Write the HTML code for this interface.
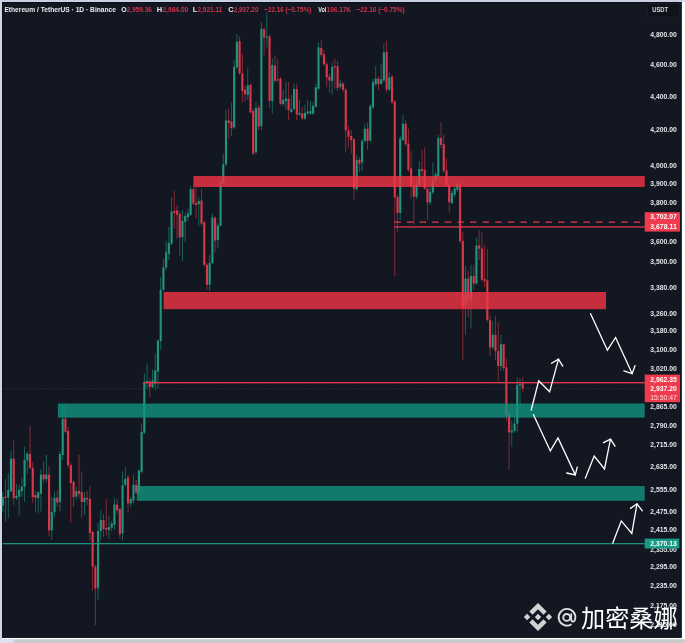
<!DOCTYPE html>
<html><head><meta charset="utf-8"><title>ETHUSDT</title>
<style>
html,body{margin:0;padding:0;background:#fff;}
body{width:685px;height:643px;overflow:hidden;position:relative;font-family:"Liberation Sans",sans-serif;}
svg{position:absolute;left:0;top:0;display:block}
text{font-family:"Liberation Sans",sans-serif;}
</style></head><body>
<svg width="685" height="643" viewBox="0 0 685 643">
<defs><filter id="b" x="-2%" y="-2%" width="104%" height="104%"><feGaussianBlur stdDeviation="0.4"/></filter><filter id="b2" x="-2%" y="-2%" width="104%" height="104%"><feGaussianBlur stdDeviation="0.3"/></filter><pattern id="chk" width="2" height="2" patternUnits="userSpaceOnUse"><rect width="2" height="2" fill="#d3d9e8"/><rect width="1" height="1" fill="#e6eaf3"/><rect x="1" y="1" width="1" height="1" fill="#e6eaf3"/></pattern></defs>
<rect x="0" y="0" width="685" height="643" fill="#ffffff"/>
<rect x="0" y="0" width="682" height="2.2" fill="#c9d0e2"/>
<rect x="682" y="0" width="3" height="2" fill="#d9deeb"/>
<rect x="0" y="0" width="2.2" height="639" fill="#d0d6e6"/>
<rect x="0" y="639" width="14" height="4" fill="url(#chk)"/>
<rect x="14" y="639.2" width="671" height="3.8" fill="#cbcbcb"/>
<rect x="2" y="2" width="679.8" height="635.9" fill="#080b13"/>
<rect x="2.6" y="2.6" width="678.6" height="634.7" fill="#131722"/>

<g id="candles" filter="url(#b)">
<rect x="2.35" y="492.0" width="0.9" height="20.0" fill="#166a5d"/>
<rect x="1.75" y="497.0" width="2.1" height="8.5" fill="#22957f"/>
<rect x="5.07" y="479.0" width="0.9" height="42.5" fill="#8f2a38"/>
<rect x="4.47" y="496.6" width="2.1" height="1.4" fill="#d9394c"/>
<rect x="7.79" y="473.0" width="0.9" height="45.0" fill="#166a5d"/>
<rect x="7.19" y="490.0" width="2.1" height="7.5" fill="#22957f"/>
<rect x="10.52" y="451.0" width="0.9" height="41.0" fill="#166a5d"/>
<rect x="9.92" y="458.7" width="2.1" height="32.7" fill="#22957f"/>
<rect x="13.24" y="440.0" width="0.9" height="65.0" fill="#8f2a38"/>
<rect x="12.64" y="458.7" width="2.1" height="39.3" fill="#d9394c"/>
<rect x="15.96" y="484.0" width="0.9" height="16.0" fill="#166a5d"/>
<rect x="15.36" y="496.0" width="2.1" height="2.0" fill="#22957f"/>
<rect x="18.68" y="485.0" width="0.9" height="30.5" fill="#166a5d"/>
<rect x="18.08" y="490.0" width="2.1" height="6.6" fill="#22957f"/>
<rect x="21.40" y="478.4" width="0.9" height="18.6" fill="#166a5d"/>
<rect x="20.80" y="486.8" width="2.1" height="4.2" fill="#22957f"/>
<rect x="24.13" y="446.5" width="0.9" height="55.3" fill="#166a5d"/>
<rect x="23.53" y="460.0" width="2.1" height="26.7" fill="#22957f"/>
<rect x="26.85" y="452.0" width="0.9" height="21.6" fill="#166a5d"/>
<rect x="26.25" y="453.5" width="2.1" height="7.0" fill="#22957f"/>
<rect x="29.57" y="426.0" width="0.9" height="43.0" fill="#8f2a38"/>
<rect x="28.97" y="454.0" width="2.1" height="14.0" fill="#d9394c"/>
<rect x="32.29" y="462.0" width="0.9" height="40.7" fill="#8f2a38"/>
<rect x="31.69" y="468.0" width="2.1" height="29.0" fill="#d9394c"/>
<rect x="35.01" y="490.5" width="0.9" height="21.5" fill="#8f2a38"/>
<rect x="34.41" y="495.0" width="2.1" height="3.0" fill="#d9394c"/>
<rect x="37.74" y="491.0" width="0.9" height="22.5" fill="#166a5d"/>
<rect x="37.14" y="492.4" width="2.1" height="5.6" fill="#22957f"/>
<rect x="40.46" y="469.0" width="0.9" height="42.5" fill="#166a5d"/>
<rect x="39.86" y="474.7" width="2.1" height="19.1" fill="#22957f"/>
<rect x="43.18" y="461.5" width="0.9" height="22.0" fill="#8f2a38"/>
<rect x="42.58" y="474.6" width="2.1" height="4.7" fill="#d9394c"/>
<rect x="45.90" y="455.0" width="0.9" height="27.0" fill="#166a5d"/>
<rect x="45.30" y="474.6" width="2.1" height="4.7" fill="#22957f"/>
<rect x="48.62" y="466.0" width="0.9" height="70.4" fill="#8f2a38"/>
<rect x="48.02" y="474.7" width="2.1" height="55.7" fill="#d9394c"/>
<rect x="51.35" y="497.0" width="0.9" height="43.0" fill="#166a5d"/>
<rect x="50.75" y="512.0" width="2.1" height="18.4" fill="#22957f"/>
<rect x="54.07" y="491.5" width="0.9" height="25.2" fill="#166a5d"/>
<rect x="53.47" y="498.0" width="2.1" height="14.0" fill="#22957f"/>
<rect x="56.79" y="490.6" width="0.9" height="16.4" fill="#8f2a38"/>
<rect x="56.19" y="497.6" width="2.1" height="5.1" fill="#d9394c"/>
<rect x="59.51" y="451.0" width="0.9" height="60.5" fill="#166a5d"/>
<rect x="58.91" y="454.0" width="2.1" height="48.0" fill="#22957f"/>
<rect x="62.23" y="403.7" width="0.9" height="56.3" fill="#166a5d"/>
<rect x="61.63" y="418.7" width="2.1" height="36.3" fill="#22957f"/>
<rect x="64.96" y="403.3" width="0.9" height="29.7" fill="#8f2a38"/>
<rect x="64.36" y="418.7" width="2.1" height="13.1" fill="#d9394c"/>
<rect x="67.68" y="427.0" width="0.9" height="41.0" fill="#8f2a38"/>
<rect x="67.08" y="430.8" width="2.1" height="34.4" fill="#d9394c"/>
<rect x="70.40" y="463.0" width="0.9" height="59.7" fill="#8f2a38"/>
<rect x="69.80" y="465.2" width="2.1" height="17.8" fill="#d9394c"/>
<rect x="73.12" y="480.0" width="0.9" height="26.8" fill="#8f2a38"/>
<rect x="72.52" y="482.0" width="2.1" height="15.0" fill="#d9394c"/>
<rect x="75.84" y="486.7" width="0.9" height="13.3" fill="#166a5d"/>
<rect x="75.24" y="491.0" width="2.1" height="5.5" fill="#22957f"/>
<rect x="78.57" y="455.0" width="0.9" height="43.0" fill="#8f2a38"/>
<rect x="77.97" y="491.0" width="2.1" height="2.7" fill="#d9394c"/>
<rect x="81.29" y="471.8" width="0.9" height="46.2" fill="#8f2a38"/>
<rect x="80.69" y="492.0" width="2.1" height="10.0" fill="#d9394c"/>
<rect x="84.01" y="492.0" width="0.9" height="23.0" fill="#166a5d"/>
<rect x="83.41" y="498.0" width="2.1" height="4.0" fill="#22957f"/>
<rect x="86.73" y="491.0" width="0.9" height="14.0" fill="#8f2a38"/>
<rect x="86.13" y="498.0" width="2.1" height="1.3" fill="#d9394c"/>
<rect x="89.45" y="485.8" width="0.9" height="54.7" fill="#8f2a38"/>
<rect x="88.85" y="498.9" width="2.1" height="34.1" fill="#d9394c"/>
<rect x="92.18" y="530.0" width="0.9" height="61.0" fill="#8f2a38"/>
<rect x="91.58" y="532.0" width="2.1" height="34.6" fill="#d9394c"/>
<rect x="94.90" y="565.0" width="0.9" height="60.0" fill="#8f2a38"/>
<rect x="94.30" y="566.6" width="2.1" height="22.0" fill="#d9394c"/>
<rect x="97.62" y="522.7" width="0.9" height="77.3" fill="#166a5d"/>
<rect x="97.02" y="531.0" width="2.1" height="56.7" fill="#22957f"/>
<rect x="100.34" y="510.0" width="0.9" height="30.5" fill="#166a5d"/>
<rect x="99.74" y="520.0" width="2.1" height="11.0" fill="#22957f"/>
<rect x="103.06" y="514.0" width="0.9" height="22.7" fill="#8f2a38"/>
<rect x="102.46" y="520.0" width="2.1" height="9.0" fill="#d9394c"/>
<rect x="105.79" y="499.0" width="0.9" height="36.8" fill="#8f2a38"/>
<rect x="105.19" y="528.0" width="2.1" height="1.7" fill="#d9394c"/>
<rect x="108.51" y="516.0" width="0.9" height="22.6" fill="#166a5d"/>
<rect x="107.91" y="527.0" width="2.1" height="3.0" fill="#22957f"/>
<rect x="111.23" y="521.0" width="0.9" height="10.0" fill="#166a5d"/>
<rect x="110.63" y="523.5" width="2.1" height="4.3" fill="#22957f"/>
<rect x="113.95" y="498.5" width="0.9" height="31.5" fill="#166a5d"/>
<rect x="113.35" y="504.6" width="2.1" height="20.4" fill="#22957f"/>
<rect x="116.67" y="498.4" width="0.9" height="15.1" fill="#8f2a38"/>
<rect x="116.07" y="504.6" width="2.1" height="5.7" fill="#d9394c"/>
<rect x="119.40" y="508.0" width="0.9" height="31.0" fill="#8f2a38"/>
<rect x="118.80" y="509.0" width="2.1" height="25.2" fill="#d9394c"/>
<rect x="122.12" y="471.8" width="0.9" height="68.5" fill="#166a5d"/>
<rect x="121.52" y="485.3" width="2.1" height="48.0" fill="#22957f"/>
<rect x="124.84" y="467.0" width="0.9" height="19.0" fill="#166a5d"/>
<rect x="124.24" y="478.8" width="2.1" height="6.1" fill="#22957f"/>
<rect x="127.56" y="475.0" width="0.9" height="37.7" fill="#8f2a38"/>
<rect x="126.96" y="477.4" width="2.1" height="26.0" fill="#d9394c"/>
<rect x="130.28" y="497.0" width="0.9" height="10.0" fill="#166a5d"/>
<rect x="129.68" y="499.0" width="2.1" height="4.4" fill="#22957f"/>
<rect x="133.01" y="474.6" width="0.9" height="28.8" fill="#166a5d"/>
<rect x="132.41" y="485.0" width="2.1" height="15.6" fill="#22957f"/>
<rect x="135.73" y="480.0" width="0.9" height="14.0" fill="#8f2a38"/>
<rect x="135.13" y="485.0" width="2.1" height="7.5" fill="#d9394c"/>
<rect x="138.45" y="469.0" width="0.9" height="25.0" fill="#166a5d"/>
<rect x="137.85" y="470.8" width="2.1" height="21.7" fill="#22957f"/>
<rect x="141.17" y="424.0" width="0.9" height="49.0" fill="#166a5d"/>
<rect x="140.57" y="431.8" width="2.1" height="40.0" fill="#22957f"/>
<rect x="143.89" y="373.5" width="0.9" height="60.5" fill="#166a5d"/>
<rect x="143.29" y="382.5" width="2.1" height="50.2" fill="#22957f"/>
<rect x="146.62" y="363.5" width="0.9" height="25.5" fill="#166a5d"/>
<rect x="146.02" y="381.0" width="2.1" height="2.0" fill="#22957f"/>
<rect x="149.34" y="378.0" width="0.9" height="19.0" fill="#8f2a38"/>
<rect x="148.74" y="381.3" width="2.1" height="5.7" fill="#d9394c"/>
<rect x="152.06" y="369.8" width="0.9" height="18.2" fill="#166a5d"/>
<rect x="151.46" y="380.4" width="2.1" height="6.6" fill="#22957f"/>
<rect x="154.78" y="353.6" width="0.9" height="36.1" fill="#166a5d"/>
<rect x="154.18" y="370.4" width="2.1" height="13.1" fill="#22957f"/>
<rect x="157.50" y="340.0" width="0.9" height="48.5" fill="#166a5d"/>
<rect x="156.90" y="340.5" width="2.1" height="31.1" fill="#22957f"/>
<rect x="160.23" y="277.0" width="0.9" height="72.9" fill="#166a5d"/>
<rect x="159.63" y="289.8" width="2.1" height="51.2" fill="#22957f"/>
<rect x="162.95" y="258.6" width="0.9" height="32.4" fill="#166a5d"/>
<rect x="162.35" y="267.4" width="2.1" height="22.4" fill="#22957f"/>
<rect x="165.67" y="241.0" width="0.9" height="29.0" fill="#166a5d"/>
<rect x="165.07" y="252.4" width="2.1" height="15.0" fill="#22957f"/>
<rect x="168.39" y="227.0" width="0.9" height="33.0" fill="#166a5d"/>
<rect x="167.79" y="243.0" width="2.1" height="10.7" fill="#22957f"/>
<rect x="171.11" y="197.4" width="0.9" height="47.6" fill="#166a5d"/>
<rect x="170.51" y="211.7" width="2.1" height="32.0" fill="#22957f"/>
<rect x="173.84" y="191.0" width="0.9" height="37.5" fill="#8f2a38"/>
<rect x="173.24" y="211.0" width="2.1" height="2.0" fill="#d9394c"/>
<rect x="176.56" y="204.9" width="0.9" height="33.6" fill="#8f2a38"/>
<rect x="175.96" y="210.5" width="2.1" height="4.3" fill="#d9394c"/>
<rect x="179.28" y="211.0" width="0.9" height="45.0" fill="#8f2a38"/>
<rect x="178.68" y="213.6" width="2.1" height="23.6" fill="#d9394c"/>
<rect x="182.00" y="209.8" width="0.9" height="51.2" fill="#166a5d"/>
<rect x="181.40" y="221.0" width="2.1" height="16.2" fill="#22957f"/>
<rect x="184.72" y="212.3" width="0.9" height="29.7" fill="#166a5d"/>
<rect x="184.12" y="216.0" width="2.1" height="5.7" fill="#22957f"/>
<rect x="187.45" y="208.6" width="0.9" height="12.4" fill="#166a5d"/>
<rect x="186.85" y="213.6" width="2.1" height="3.7" fill="#22957f"/>
<rect x="190.17" y="186.0" width="0.9" height="30.0" fill="#166a5d"/>
<rect x="189.57" y="189.3" width="2.1" height="25.5" fill="#22957f"/>
<rect x="192.89" y="186.8" width="0.9" height="18.2" fill="#8f2a38"/>
<rect x="192.29" y="189.3" width="2.1" height="14.3" fill="#d9394c"/>
<rect x="195.61" y="187.4" width="0.9" height="31.1" fill="#8f2a38"/>
<rect x="195.01" y="203.0" width="2.1" height="1.9" fill="#d9394c"/>
<rect x="198.33" y="196.8" width="0.9" height="29.2" fill="#166a5d"/>
<rect x="197.73" y="201.0" width="2.1" height="3.2" fill="#22957f"/>
<rect x="201.06" y="189.3" width="0.9" height="36.7" fill="#8f2a38"/>
<rect x="200.46" y="200.5" width="2.1" height="23.0" fill="#d9394c"/>
<rect x="203.78" y="221.0" width="0.9" height="46.0" fill="#8f2a38"/>
<rect x="203.18" y="222.4" width="2.1" height="42.4" fill="#d9394c"/>
<rect x="206.50" y="263.0" width="0.9" height="26.8" fill="#8f2a38"/>
<rect x="205.90" y="264.8" width="2.1" height="20.0" fill="#d9394c"/>
<rect x="209.22" y="254.8" width="0.9" height="36.2" fill="#166a5d"/>
<rect x="208.62" y="263.0" width="2.1" height="21.8" fill="#22957f"/>
<rect x="211.94" y="213.6" width="0.9" height="50.4" fill="#166a5d"/>
<rect x="211.34" y="217.4" width="2.1" height="45.6" fill="#22957f"/>
<rect x="214.67" y="216.0" width="0.9" height="36.3" fill="#8f2a38"/>
<rect x="214.07" y="218.0" width="2.1" height="22.5" fill="#d9394c"/>
<rect x="217.39" y="223.0" width="0.9" height="25.6" fill="#166a5d"/>
<rect x="216.79" y="225.5" width="2.1" height="14.4" fill="#22957f"/>
<rect x="220.11" y="180.0" width="0.9" height="47.0" fill="#166a5d"/>
<rect x="219.51" y="182.3" width="2.1" height="43.2" fill="#22957f"/>
<rect x="222.83" y="153.7" width="0.9" height="30.3" fill="#166a5d"/>
<rect x="222.23" y="164.3" width="2.1" height="18.0" fill="#22957f"/>
<rect x="225.55" y="110.0" width="0.9" height="56.0" fill="#166a5d"/>
<rect x="224.95" y="120.5" width="2.1" height="43.8" fill="#22957f"/>
<rect x="228.28" y="108.6" width="0.9" height="29.9" fill="#8f2a38"/>
<rect x="227.68" y="120.5" width="2.1" height="2.5" fill="#d9394c"/>
<rect x="231.00" y="102.4" width="0.9" height="33.6" fill="#8f2a38"/>
<rect x="230.40" y="121.7" width="2.1" height="6.3" fill="#d9394c"/>
<rect x="233.72" y="59.8" width="0.9" height="69.2" fill="#166a5d"/>
<rect x="233.12" y="66.7" width="2.1" height="60.6" fill="#22957f"/>
<rect x="236.44" y="33.7" width="0.9" height="35.3" fill="#166a5d"/>
<rect x="235.84" y="41.8" width="2.1" height="25.5" fill="#22957f"/>
<rect x="239.16" y="36.2" width="0.9" height="38.8" fill="#8f2a38"/>
<rect x="238.56" y="41.2" width="2.1" height="32.3" fill="#d9394c"/>
<rect x="241.89" y="53.6" width="0.9" height="48.8" fill="#8f2a38"/>
<rect x="241.29" y="73.5" width="2.1" height="17.5" fill="#d9394c"/>
<rect x="244.61" y="86.0" width="0.9" height="16.0" fill="#8f2a38"/>
<rect x="244.01" y="89.7" width="2.1" height="4.6" fill="#d9394c"/>
<rect x="247.33" y="67.3" width="0.9" height="32.7" fill="#166a5d"/>
<rect x="246.73" y="85.4" width="2.1" height="9.5" fill="#22957f"/>
<rect x="250.05" y="83.5" width="0.9" height="30.0" fill="#8f2a38"/>
<rect x="249.45" y="84.7" width="2.1" height="27.7" fill="#d9394c"/>
<rect x="252.77" y="109.0" width="0.9" height="46.5" fill="#8f2a38"/>
<rect x="252.17" y="111.0" width="2.1" height="42.5" fill="#d9394c"/>
<rect x="255.50" y="102.0" width="0.9" height="52.0" fill="#166a5d"/>
<rect x="254.90" y="108.0" width="2.1" height="44.2" fill="#22957f"/>
<rect x="258.22" y="105.0" width="0.9" height="25.0" fill="#8f2a38"/>
<rect x="257.62" y="107.4" width="2.1" height="19.3" fill="#d9394c"/>
<rect x="260.94" y="22.4" width="0.9" height="107.6" fill="#166a5d"/>
<rect x="260.34" y="29.0" width="2.1" height="97.0" fill="#22957f"/>
<rect x="263.66" y="27.5" width="0.9" height="27.4" fill="#8f2a38"/>
<rect x="263.06" y="29.3" width="2.1" height="8.4" fill="#d9394c"/>
<rect x="266.38" y="12.5" width="0.9" height="34.8" fill="#166a5d"/>
<rect x="265.78" y="36.4" width="2.1" height="1.2" fill="#22957f"/>
<rect x="269.11" y="34.0" width="0.9" height="74.0" fill="#8f2a38"/>
<rect x="268.51" y="36.5" width="2.1" height="64.5" fill="#d9394c"/>
<rect x="271.83" y="58.6" width="0.9" height="54.9" fill="#166a5d"/>
<rect x="271.23" y="65.0" width="2.1" height="36.0" fill="#22957f"/>
<rect x="274.55" y="55.3" width="0.9" height="27.2" fill="#8f2a38"/>
<rect x="273.95" y="65.5" width="2.1" height="15.2" fill="#d9394c"/>
<rect x="277.27" y="59.5" width="0.9" height="22.0" fill="#8f2a38"/>
<rect x="276.67" y="79.4" width="2.1" height="1.2" fill="#d9394c"/>
<rect x="279.99" y="77.0" width="0.9" height="28.0" fill="#8f2a38"/>
<rect x="279.39" y="78.8" width="2.1" height="25.0" fill="#d9394c"/>
<rect x="282.72" y="89.8" width="0.9" height="16.2" fill="#166a5d"/>
<rect x="282.12" y="100.0" width="2.1" height="4.0" fill="#22957f"/>
<rect x="285.44" y="82.0" width="0.9" height="27.7" fill="#166a5d"/>
<rect x="284.84" y="98.5" width="2.1" height="2.5" fill="#22957f"/>
<rect x="288.16" y="82.0" width="0.9" height="38.0" fill="#8f2a38"/>
<rect x="287.56" y="98.8" width="2.1" height="11.2" fill="#d9394c"/>
<rect x="290.88" y="94.8" width="0.9" height="18.2" fill="#166a5d"/>
<rect x="290.28" y="109.0" width="2.1" height="3.0" fill="#22957f"/>
<rect x="293.60" y="83.6" width="0.9" height="26.4" fill="#166a5d"/>
<rect x="293.00" y="89.0" width="2.1" height="20.0" fill="#22957f"/>
<rect x="296.33" y="83.6" width="0.9" height="36.4" fill="#8f2a38"/>
<rect x="295.73" y="89.0" width="2.1" height="25.5" fill="#d9394c"/>
<rect x="299.05" y="100.0" width="0.9" height="16.0" fill="#166a5d"/>
<rect x="298.45" y="112.8" width="2.1" height="1.9" fill="#22957f"/>
<rect x="301.77" y="107.0" width="0.9" height="13.0" fill="#8f2a38"/>
<rect x="301.17" y="113.5" width="2.1" height="5.0" fill="#d9394c"/>
<rect x="304.49" y="104.8" width="0.9" height="15.2" fill="#166a5d"/>
<rect x="303.89" y="112.8" width="2.1" height="5.7" fill="#22957f"/>
<rect x="307.21" y="99.8" width="0.9" height="15.2" fill="#166a5d"/>
<rect x="306.61" y="111.6" width="2.1" height="1.9" fill="#22957f"/>
<rect x="309.94" y="101.0" width="0.9" height="14.0" fill="#166a5d"/>
<rect x="309.34" y="111.0" width="2.1" height="2.5" fill="#22957f"/>
<rect x="312.66" y="102.0" width="0.9" height="13.0" fill="#166a5d"/>
<rect x="312.06" y="106.0" width="2.1" height="7.5" fill="#22957f"/>
<rect x="315.38" y="83.6" width="0.9" height="24.4" fill="#166a5d"/>
<rect x="314.78" y="87.3" width="2.1" height="19.3" fill="#22957f"/>
<rect x="318.10" y="42.5" width="0.9" height="47.5" fill="#166a5d"/>
<rect x="317.50" y="47.5" width="2.1" height="41.1" fill="#22957f"/>
<rect x="320.82" y="40.0" width="0.9" height="17.0" fill="#8f2a38"/>
<rect x="320.22" y="48.0" width="2.1" height="7.0" fill="#d9394c"/>
<rect x="323.55" y="50.0" width="0.9" height="16.0" fill="#8f2a38"/>
<rect x="322.95" y="54.3" width="2.1" height="10.0" fill="#d9394c"/>
<rect x="326.27" y="62.0" width="0.9" height="25.3" fill="#8f2a38"/>
<rect x="325.67" y="64.3" width="2.1" height="13.1" fill="#d9394c"/>
<rect x="328.99" y="74.0" width="0.9" height="18.3" fill="#8f2a38"/>
<rect x="328.39" y="76.7" width="2.1" height="3.8" fill="#d9394c"/>
<rect x="331.71" y="62.4" width="0.9" height="32.4" fill="#166a5d"/>
<rect x="331.11" y="66.8" width="2.1" height="14.3" fill="#22957f"/>
<rect x="334.43" y="58.7" width="0.9" height="29.9" fill="#8f2a38"/>
<rect x="333.83" y="66.2" width="2.1" height="1.2" fill="#d9394c"/>
<rect x="337.16" y="61.0" width="0.9" height="30.0" fill="#8f2a38"/>
<rect x="336.56" y="66.2" width="2.1" height="21.8" fill="#d9394c"/>
<rect x="339.88" y="80.0" width="0.9" height="9.0" fill="#166a5d"/>
<rect x="339.28" y="83.6" width="2.1" height="3.1" fill="#22957f"/>
<rect x="342.60" y="82.3" width="0.9" height="9.7" fill="#8f2a38"/>
<rect x="342.00" y="83.6" width="2.1" height="6.2" fill="#d9394c"/>
<rect x="345.32" y="88.0" width="0.9" height="64.0" fill="#8f2a38"/>
<rect x="344.72" y="89.8" width="2.1" height="40.7" fill="#d9394c"/>
<rect x="348.04" y="126.0" width="0.9" height="21.4" fill="#8f2a38"/>
<rect x="347.44" y="130.5" width="2.1" height="6.3" fill="#d9394c"/>
<rect x="350.77" y="130.0" width="0.9" height="23.6" fill="#8f2a38"/>
<rect x="350.17" y="136.0" width="2.1" height="4.0" fill="#d9394c"/>
<rect x="353.49" y="138.0" width="0.9" height="61.9" fill="#8f2a38"/>
<rect x="352.89" y="139.3" width="2.1" height="49.4" fill="#d9394c"/>
<rect x="356.21" y="154.8" width="0.9" height="35.7" fill="#166a5d"/>
<rect x="355.61" y="159.8" width="2.1" height="29.5" fill="#22957f"/>
<rect x="358.93" y="157.0" width="0.9" height="15.0" fill="#8f2a38"/>
<rect x="358.33" y="159.8" width="2.1" height="3.7" fill="#d9394c"/>
<rect x="361.65" y="139.0" width="0.9" height="32.0" fill="#166a5d"/>
<rect x="361.05" y="141.0" width="2.1" height="21.3" fill="#22957f"/>
<rect x="364.38" y="123.7" width="0.9" height="19.3" fill="#166a5d"/>
<rect x="363.78" y="128.7" width="2.1" height="12.3" fill="#22957f"/>
<rect x="367.10" y="122.5" width="0.9" height="27.5" fill="#8f2a38"/>
<rect x="366.50" y="128.7" width="2.1" height="12.3" fill="#d9394c"/>
<rect x="369.82" y="104.0" width="0.9" height="38.0" fill="#166a5d"/>
<rect x="369.22" y="106.0" width="2.1" height="34.5" fill="#22957f"/>
<rect x="372.54" y="78.6" width="0.9" height="30.4" fill="#166a5d"/>
<rect x="371.94" y="82.3" width="2.1" height="24.9" fill="#22957f"/>
<rect x="375.26" y="66.0" width="0.9" height="20.0" fill="#166a5d"/>
<rect x="374.66" y="78.6" width="2.1" height="5.6" fill="#22957f"/>
<rect x="377.99" y="76.0" width="0.9" height="13.8" fill="#8f2a38"/>
<rect x="377.39" y="78.6" width="2.1" height="5.6" fill="#d9394c"/>
<rect x="380.71" y="63.7" width="0.9" height="21.3" fill="#166a5d"/>
<rect x="380.11" y="79.2" width="2.1" height="4.4" fill="#22957f"/>
<rect x="383.43" y="43.7" width="0.9" height="38.3" fill="#166a5d"/>
<rect x="382.83" y="52.5" width="2.1" height="28.0" fill="#22957f"/>
<rect x="386.15" y="41.0" width="0.9" height="51.3" fill="#8f2a38"/>
<rect x="385.55" y="51.8" width="2.1" height="37.7" fill="#d9394c"/>
<rect x="388.87" y="72.4" width="0.9" height="18.6" fill="#166a5d"/>
<rect x="388.27" y="77.4" width="2.1" height="12.4" fill="#22957f"/>
<rect x="391.60" y="75.0" width="0.9" height="29.0" fill="#8f2a38"/>
<rect x="391.00" y="76.7" width="2.1" height="25.6" fill="#d9394c"/>
<rect x="394.32" y="100.0" width="0.9" height="176.0" fill="#8f2a38"/>
<rect x="393.72" y="101.6" width="2.1" height="95.8" fill="#d9394c"/>
<rect x="397.04" y="195.0" width="0.9" height="37.0" fill="#8f2a38"/>
<rect x="396.44" y="197.0" width="2.1" height="16.0" fill="#d9394c"/>
<rect x="399.76" y="136.0" width="0.9" height="84.0" fill="#166a5d"/>
<rect x="399.16" y="138.6" width="2.1" height="74.4" fill="#22957f"/>
<rect x="402.48" y="115.0" width="0.9" height="26.0" fill="#166a5d"/>
<rect x="401.88" y="123.7" width="2.1" height="16.2" fill="#22957f"/>
<rect x="405.21" y="120.0" width="0.9" height="26.0" fill="#8f2a38"/>
<rect x="404.61" y="123.7" width="2.1" height="20.5" fill="#d9394c"/>
<rect x="407.93" y="128.7" width="0.9" height="43.3" fill="#8f2a38"/>
<rect x="407.33" y="143.6" width="2.1" height="26.2" fill="#d9394c"/>
<rect x="410.65" y="151.0" width="0.9" height="47.6" fill="#8f2a38"/>
<rect x="410.05" y="168.5" width="2.1" height="17.5" fill="#d9394c"/>
<rect x="413.37" y="184.0" width="0.9" height="40.8" fill="#8f2a38"/>
<rect x="412.77" y="186.0" width="2.1" height="10.5" fill="#d9394c"/>
<rect x="416.09" y="180.0" width="0.9" height="19.0" fill="#166a5d"/>
<rect x="415.49" y="185.0" width="2.1" height="11.8" fill="#22957f"/>
<rect x="418.82" y="161.0" width="0.9" height="26.0" fill="#166a5d"/>
<rect x="418.22" y="169.1" width="2.1" height="15.9" fill="#22957f"/>
<rect x="421.54" y="149.8" width="0.9" height="30.2" fill="#8f2a38"/>
<rect x="420.94" y="169.1" width="2.1" height="1.9" fill="#d9394c"/>
<rect x="424.26" y="147.3" width="0.9" height="42.7" fill="#8f2a38"/>
<rect x="423.66" y="169.8" width="2.1" height="18.9" fill="#d9394c"/>
<rect x="426.98" y="187.0" width="0.9" height="32.8" fill="#8f2a38"/>
<rect x="426.38" y="188.7" width="2.1" height="13.7" fill="#d9394c"/>
<rect x="429.70" y="187.0" width="0.9" height="18.0" fill="#166a5d"/>
<rect x="429.10" y="191.8" width="2.1" height="10.6" fill="#22957f"/>
<rect x="432.43" y="162.3" width="0.9" height="31.7" fill="#166a5d"/>
<rect x="431.83" y="180.0" width="2.1" height="12.4" fill="#22957f"/>
<rect x="435.15" y="172.0" width="0.9" height="10.0" fill="#166a5d"/>
<rect x="434.55" y="174.5" width="2.1" height="5.5" fill="#22957f"/>
<rect x="437.87" y="135.0" width="0.9" height="43.0" fill="#166a5d"/>
<rect x="437.27" y="138.0" width="2.1" height="38.0" fill="#22957f"/>
<rect x="440.59" y="122.4" width="0.9" height="25.6" fill="#8f2a38"/>
<rect x="439.99" y="138.0" width="2.1" height="6.9" fill="#d9394c"/>
<rect x="443.31" y="135.0" width="0.9" height="38.0" fill="#8f2a38"/>
<rect x="442.71" y="144.2" width="2.1" height="26.6" fill="#d9394c"/>
<rect x="446.04" y="158.5" width="0.9" height="28.5" fill="#8f2a38"/>
<rect x="445.44" y="170.5" width="2.1" height="14.5" fill="#d9394c"/>
<rect x="448.76" y="183.6" width="0.9" height="28.7" fill="#8f2a38"/>
<rect x="448.16" y="185.0" width="2.1" height="17.3" fill="#d9394c"/>
<rect x="451.48" y="190.0" width="0.9" height="14.0" fill="#166a5d"/>
<rect x="450.88" y="193.0" width="2.1" height="10.0" fill="#22957f"/>
<rect x="454.20" y="186.0" width="0.9" height="11.0" fill="#166a5d"/>
<rect x="453.60" y="188.6" width="2.1" height="6.2" fill="#22957f"/>
<rect x="456.92" y="182.3" width="0.9" height="9.7" fill="#166a5d"/>
<rect x="456.32" y="183.6" width="2.1" height="6.3" fill="#22957f"/>
<rect x="459.65" y="183.0" width="0.9" height="60.0" fill="#8f2a38"/>
<rect x="459.05" y="184.2" width="2.1" height="57.0" fill="#d9394c"/>
<rect x="462.37" y="232.0" width="0.9" height="127.7" fill="#8f2a38"/>
<rect x="461.77" y="241.2" width="2.1" height="66.2" fill="#d9394c"/>
<rect x="465.09" y="266.0" width="0.9" height="68.8" fill="#166a5d"/>
<rect x="464.49" y="278.5" width="2.1" height="26.5" fill="#22957f"/>
<rect x="467.81" y="271.0" width="0.9" height="46.0" fill="#8f2a38"/>
<rect x="467.21" y="278.5" width="2.1" height="22.5" fill="#d9394c"/>
<rect x="470.53" y="265.0" width="0.9" height="63.6" fill="#166a5d"/>
<rect x="469.93" y="276.0" width="2.1" height="24.0" fill="#22957f"/>
<rect x="473.26" y="264.8" width="0.9" height="25.2" fill="#8f2a38"/>
<rect x="472.66" y="276.0" width="2.1" height="7.5" fill="#d9394c"/>
<rect x="475.98" y="237.5" width="0.9" height="47.5" fill="#166a5d"/>
<rect x="475.38" y="245.5" width="2.1" height="38.0" fill="#22957f"/>
<rect x="478.70" y="230.0" width="0.9" height="30.0" fill="#8f2a38"/>
<rect x="478.10" y="245.5" width="2.1" height="3.2" fill="#d9394c"/>
<rect x="481.42" y="232.5" width="0.9" height="49.5" fill="#8f2a38"/>
<rect x="480.82" y="248.7" width="2.1" height="31.1" fill="#d9394c"/>
<rect x="484.14" y="245.0" width="0.9" height="42.0" fill="#8f2a38"/>
<rect x="483.54" y="279.0" width="2.1" height="2.0" fill="#d9394c"/>
<rect x="486.87" y="248.7" width="0.9" height="73.3" fill="#8f2a38"/>
<rect x="486.27" y="280.4" width="2.1" height="39.5" fill="#d9394c"/>
<rect x="489.59" y="315.0" width="0.9" height="41.0" fill="#8f2a38"/>
<rect x="488.99" y="319.9" width="2.1" height="27.5" fill="#d9394c"/>
<rect x="492.31" y="321.0" width="0.9" height="28.0" fill="#166a5d"/>
<rect x="491.71" y="334.8" width="2.1" height="12.6" fill="#22957f"/>
<rect x="495.03" y="316.0" width="0.9" height="44.0" fill="#8f2a38"/>
<rect x="494.43" y="334.8" width="2.1" height="16.3" fill="#d9394c"/>
<rect x="497.75" y="322.0" width="0.9" height="59.0" fill="#8f2a38"/>
<rect x="497.15" y="351.1" width="2.1" height="14.9" fill="#d9394c"/>
<rect x="500.48" y="334.8" width="0.9" height="36.2" fill="#166a5d"/>
<rect x="499.88" y="344.3" width="2.1" height="21.7" fill="#22957f"/>
<rect x="503.20" y="343.5" width="0.9" height="27.5" fill="#8f2a38"/>
<rect x="502.60" y="344.3" width="2.1" height="23.7" fill="#d9394c"/>
<rect x="505.92" y="358.7" width="0.9" height="62.3" fill="#8f2a38"/>
<rect x="505.32" y="367.4" width="2.1" height="47.6" fill="#d9394c"/>
<rect x="508.64" y="412.0" width="0.9" height="57.7" fill="#8f2a38"/>
<rect x="508.04" y="413.7" width="2.1" height="18.7" fill="#d9394c"/>
<rect x="511.36" y="420.0" width="0.9" height="27.0" fill="#166a5d"/>
<rect x="510.76" y="430.5" width="2.1" height="1.9" fill="#22957f"/>
<rect x="514.09" y="417.4" width="0.9" height="15.6" fill="#166a5d"/>
<rect x="513.49" y="423.6" width="2.1" height="7.4" fill="#22957f"/>
<rect x="516.81" y="377.3" width="0.9" height="55.1" fill="#166a5d"/>
<rect x="516.21" y="384.8" width="2.1" height="38.8" fill="#22957f"/>
<rect x="519.53" y="378.5" width="0.9" height="29.0" fill="#166a5d"/>
<rect x="518.93" y="384.2" width="2.1" height="1.2" fill="#22957f"/>
<rect x="522.25" y="377.3" width="0.9" height="15.0" fill="#8f2a38"/>
<rect x="521.65" y="382.3" width="2.1" height="6.2" fill="#d9394c"/>
</g>
<g id="lines" filter="url(#b2)">
<line x1="2.6" y1="388.7" x2="644.7" y2="388.7" stroke="#4a4d58" stroke-width="0.8" stroke-dasharray="1 1.2" opacity="0.6"/>
<rect x="143" y="382" width="501.7" height="1.4" fill="#e0384b"/>
<rect x="2.6" y="543" width="642.1" height="1.3" fill="#1a8f7c"/>
<rect x="394.2" y="226.3" width="250.5" height="1.3" fill="#e0384b"/>
<line x1="394.4" y1="222.2" x2="644.7" y2="222.2" stroke="#e0384b" stroke-width="1.2" stroke-dasharray="6.5 6.1"/>
</g>
<g id="zones" filter="url(#b2)">
<rect x="193.4" y="176" width="451.3" height="11" fill="#f23645" fill-opacity="0.8"/>
<rect x="163.6" y="292" width="442.4" height="17.2" fill="#f23645" fill-opacity="0.8"/>
<rect x="57.9" y="403.5" width="586.8" height="14.1" fill="#109682" fill-opacity="0.78"/>
<rect x="136.8" y="486" width="507.9" height="14.8" fill="#109682" fill-opacity="0.78"/>
</g>
<g id="arrows" filter="url(#b2)">
<path d="M531.2 410.0 L538.7 380.8 L549.6 391.8 L558.5 359.1" fill="none" stroke="#ffffff" stroke-width="1.3" stroke-linejoin="miter" stroke-linecap="round"/>
<path d="M551.5 363.3 L558.5 359.1 L562.7 366.1" fill="none" stroke="#ffffff" stroke-width="1.3" stroke-linecap="round" stroke-linejoin="miter"/>
<path d="M533.5 414.7 L550.3 450.9 L558.0 438.0 L575.3 474.9" fill="none" stroke="#ffffff" stroke-width="1.3" stroke-linejoin="miter" stroke-linecap="round"/>
<path d="M566.7 473.0 L575.3 474.9 L577.2 467.2" fill="none" stroke="#ffffff" stroke-width="1.3" stroke-linecap="round" stroke-linejoin="miter"/>
<path d="M585.3 478.2 L594.2 456.0 L604.5 469.0 L610.5 439.2" fill="none" stroke="#ffffff" stroke-width="1.3" stroke-linejoin="miter" stroke-linecap="round"/>
<path d="M603.5 442.7 L610.5 439.2 L615.0 446.2" fill="none" stroke="#ffffff" stroke-width="1.3" stroke-linecap="round" stroke-linejoin="miter"/>
<path d="M590.6 313.7 L607.4 350.2 L615.6 337.5 L632.1 373.6" fill="none" stroke="#ffffff" stroke-width="1.3" stroke-linejoin="miter" stroke-linecap="round"/>
<path d="M623.9 370.8 L632.1 373.6 L635.0 365.7" fill="none" stroke="#ffffff" stroke-width="1.3" stroke-linecap="round" stroke-linejoin="miter"/>
<path d="M612.7 543.2 L621.3 520.9 L631.8 533.4 L637.0 503.8" fill="none" stroke="#ffffff" stroke-width="1.3" stroke-linejoin="miter" stroke-linecap="round"/>
<path d="M630.5 508.4 L637.0 503.8 L642.3 510.8" fill="none" stroke="#ffffff" stroke-width="1.3" stroke-linecap="round" stroke-linejoin="miter"/>
</g>
<g id="axis" filter="url(#b2)" font-size="7.2" font-weight="bold" fill="#e2e4ea">
<text x="650.2" y="36.5" textLength="26.6" lengthAdjust="spacingAndGlyphs">4,800.00</text>
<text x="650.2" y="67.1" textLength="26.6" lengthAdjust="spacingAndGlyphs">4,600.00</text>
<text x="650.2" y="98.7" textLength="26.6" lengthAdjust="spacingAndGlyphs">4,400.00</text>
<text x="650.2" y="132.3" textLength="26.6" lengthAdjust="spacingAndGlyphs">4,200.00</text>
<text x="650.2" y="167.6" textLength="26.6" lengthAdjust="spacingAndGlyphs">4,000.00</text>
<text x="650.2" y="185.9" textLength="26.6" lengthAdjust="spacingAndGlyphs">3,900.00</text>
<text x="650.2" y="205.1" textLength="26.6" lengthAdjust="spacingAndGlyphs">3,800.00</text>
<text x="650.2" y="243.9" textLength="26.6" lengthAdjust="spacingAndGlyphs">3,600.00</text>
<text x="650.2" y="264.3" textLength="26.6" lengthAdjust="spacingAndGlyphs">3,500.00</text>
<text x="650.2" y="289.5" textLength="26.6" lengthAdjust="spacingAndGlyphs">3,380.00</text>
<text x="650.2" y="316.2" textLength="26.6" lengthAdjust="spacingAndGlyphs">3,260.00</text>
<text x="650.2" y="333.3" textLength="26.6" lengthAdjust="spacingAndGlyphs">3,180.00</text>
<text x="650.2" y="352.0" textLength="26.6" lengthAdjust="spacingAndGlyphs">3,100.00</text>
<text x="650.2" y="371.2" textLength="26.6" lengthAdjust="spacingAndGlyphs">3,020.00</text>
<text x="650.2" y="409.3" textLength="26.6" lengthAdjust="spacingAndGlyphs">2,865.00</text>
<text x="650.2" y="428.0" textLength="26.6" lengthAdjust="spacingAndGlyphs">2,790.00</text>
<text x="650.2" y="447.1" textLength="26.6" lengthAdjust="spacingAndGlyphs">2,715.00</text>
<text x="650.2" y="469.1" textLength="26.6" lengthAdjust="spacingAndGlyphs">2,635.00</text>
<text x="650.2" y="491.5" textLength="26.6" lengthAdjust="spacingAndGlyphs">2,555.00</text>
<text x="650.2" y="514.0" textLength="26.6" lengthAdjust="spacingAndGlyphs">2,475.00</text>
<text x="650.2" y="531.8" textLength="26.6" lengthAdjust="spacingAndGlyphs">2,415.00</text>
<text x="650.2" y="551.6" textLength="26.6" lengthAdjust="spacingAndGlyphs">2,355.00</text>
<text x="650.2" y="568.7" textLength="26.6" lengthAdjust="spacingAndGlyphs">2,295.00</text>
<text x="650.2" y="588.4" textLength="26.6" lengthAdjust="spacingAndGlyphs">2,235.00</text>
<text x="650.2" y="607.9" textLength="26.6" lengthAdjust="spacingAndGlyphs">2,175.00</text>
<text x="650.2" y="627.1" textLength="26.6" lengthAdjust="spacingAndGlyphs">2,115.00</text>
</g>
<g id="tags" filter="url(#b2)" font-size="7.2" font-weight="bold" fill="#ffffff">
<rect x="644.7" y="212.2" width="35.3" height="19.4" fill="#ef3a4d"/>
<text x="650.2" y="219.4" textLength="26.6" lengthAdjust="spacingAndGlyphs">3,702.07</text>
<text x="650.2" y="229.2" textLength="26.6" lengthAdjust="spacingAndGlyphs">3,678.11</text>
<rect x="644.7" y="374.6" width="35.3" height="27.6" fill="#ef3a4d"/>
<text x="650.2" y="381.5" textLength="26.6" lengthAdjust="spacingAndGlyphs">2,962.35</text>
<text x="650.2" y="391.4" textLength="26.6" lengthAdjust="spacingAndGlyphs">2,937.20</text>
<text x="650.2" y="399.6" textLength="26.6" lengthAdjust="spacingAndGlyphs" font-weight="normal" fill="#ffd9dd">15:50:47</text>
<rect x="644.7" y="538.6" width="34.6" height="9.9" fill="#159a84"/>
<text x="650.2" y="546.3" textLength="26.6" lengthAdjust="spacingAndGlyphs">2,370.13</text>
</g>
<rect x="647.2" y="3.2" width="32.6" height="13.9" fill="#0f121a" stroke="#20242f" stroke-width="0.6"/>
<text filter="url(#b2)" x="652.2" y="12" font-size="6.8" font-weight="bold" fill="#d6d8df" textLength="16" lengthAdjust="spacingAndGlyphs">USDT</text>
<g id="hdr" filter="url(#b2)" font-size="7.8" font-weight="bold">
<text x="4.4" y="11.7" fill="#e8eaee" textLength="111.6" lengthAdjust="spacingAndGlyphs">Ethereum / TetherUS · 1D · Binance</text>
<text x="121.2" y="11.7" fill="#e8eaee" textLength="5.4" lengthAdjust="spacingAndGlyphs">O</text>
<text x="126.8" y="11.7" fill="#d0344a" textLength="25.0" lengthAdjust="spacingAndGlyphs">2,959.36</text>
<text x="156.8" y="11.7" fill="#e8eaee" textLength="5.4" lengthAdjust="spacingAndGlyphs">H</text>
<text x="162.4" y="11.7" fill="#d0344a" textLength="25.9" lengthAdjust="spacingAndGlyphs">2,984.00</text>
<text x="192.7" y="11.7" fill="#e8eaee" textLength="4.5" lengthAdjust="spacingAndGlyphs">L</text>
<text x="197.4" y="11.7" fill="#d0344a" textLength="25.1" lengthAdjust="spacingAndGlyphs">2,921.11</text>
<text x="228.3" y="11.7" fill="#e8eaee" textLength="5.3" lengthAdjust="spacingAndGlyphs">C</text>
<text x="233.8" y="11.7" fill="#d0344a" textLength="24.6" lengthAdjust="spacingAndGlyphs">2,937.20</text>
<text x="264.2" y="11.7" fill="#d0344a" textLength="47.2" lengthAdjust="spacingAndGlyphs">−22.16 (−0.75%)</text>
<text x="318.2" y="11.7" fill="#e8eaee" textLength="8.2" lengthAdjust="spacingAndGlyphs">Vol</text>
<text x="326.6" y="11.7" fill="#d0344a" textLength="24.4" lengthAdjust="spacingAndGlyphs">106.17K</text>
<text x="356.4" y="11.7" fill="#d0344a" textLength="48.2" lengthAdjust="spacingAndGlyphs">−22.16 (−0.75%)</text>
</g>
<g id="wm" filter="url(#b2)">
<g transform="translate(523.9,602.9) scale(0.22273)" fill="#d2d2d2"><path d="M38.73 53.2l24.59-24.58 24.6 24.6 14.3-14.31L63.32 0 24.42 38.9zM0 63.31l14.3-14.31 14.31 14.31-14.31 14.3zM38.73 73.41l24.59 24.59 24.6-24.6 14.31 14.29-38.9 38.91-38.91-38.88zM98 63.31l14.3-14.31 14.31 14.3-14.31 14.32z"/><path d="M77.83 63.3L63.32 48.78 52.59 59.51l-1.24 1.23-2.54 2.54 14.51 14.5 14.51-14.47z"/></g>
<path d="M571.55 624.3 A8.35 8.35 0 1 1 575.07 619.46 C574.7 621.8 572.1 622.4 571.2 620.2 L571.2 613.6" fill="none" stroke="#dedede" stroke-width="1.85" stroke-linecap="butt"/>
<circle cx="566.7" cy="617.4" r="3.45" fill="none" stroke="#dedede" stroke-width="1.9"/>
<text x="581" y="627" font-size="24.15" fill="#ffffff" textLength="96.6" lengthAdjust="spacingAndGlyphs" style="font-family:'Liberation Sans','Noto Sans CJK SC',sans-serif;">加密桑娜</text>
</g>
</svg></body></html>
